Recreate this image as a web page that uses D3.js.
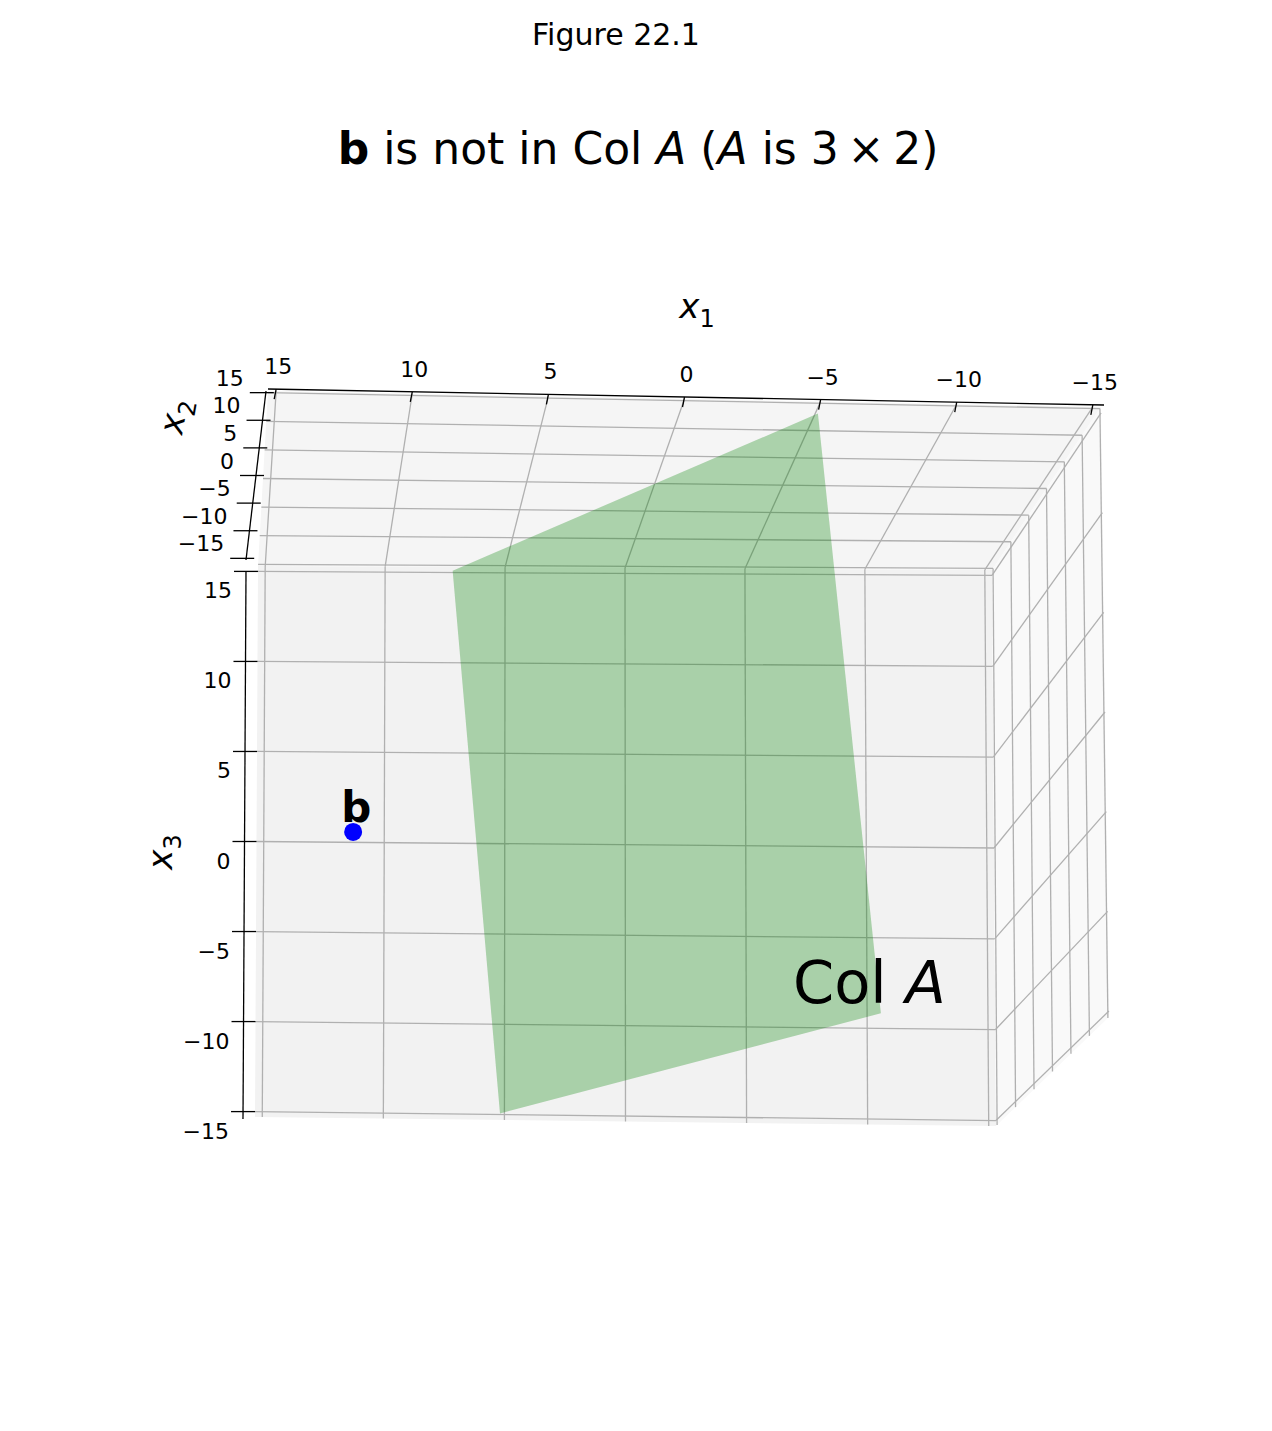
<!DOCTYPE html><html><head><meta charset="utf-8">
<script src="https://cdn.jsdelivr.net/npm/d3@7"></script>
<style>body{margin:0;background:#fff}</style></head><body>
<svg id="c" width="1272" height="1431"></svg>
<script>
const ticks=[-15,-10,-5,0,5,10,15];
const planeCorners=[[7.2,-15,15],[-5,14.2,15],[-7.2,14,-15],[5.2,-15,-15]];
const pointB=[11.3,-15,0.5];
const svg=d3.select("#c");
const F="DejaVu Sans, sans-serif";
const pad=0.3;
const su=d3.scaleLinear().domain([15+pad,-15-pad]).range([0,1]);
const sv=d3.scaleLinear().domain([-15-pad,15+pad]).range([0,1]);
const sw=d3.scaleLinear().domain([15+pad,-15-pad]).range([0,1]);
const C={"000":[258,566],"100":[992,570],"010":[268,391],"110":[1101,407],
"001":[255,1117],"101":[996,1126],"011":[261,1008],"111":[1109,1017]};
function P(x1,x2,x3){const u=su(x1),v=sv(x2),w=sw(x3);let X=0,Y=0;
for(const a of[0,1])for(const b of[0,1])for(const c of[0,1]){const k=(a?u:1-u)*(b?v:1-v)*(c?w:1-w);const p=C[""+a+b+c];X+=k*p[0];Y+=k*p[1];}
return[X,Y];}
const E=15+pad;
const line=d3.line();
function poly(pts,fill){svg.append("path").attr("d",line(pts)+"Z").attr("fill",fill).attr("stroke","none");}
poly([P(E,-E,E),P(-E,-E,E),P(-E,-E,-E),P(E,-E,-E)],"#f2f2f2");
poly([P(E,-E,E),P(-E,-E,E),P(-E,E,E),P(E,E,E)],"#f5f5f5");
poly([P(-E,-E,E),P(-E,E,E),P(-E,E,-E),P(-E,-E,-E)],"#f9f9f9");
function seg(a,b,col,w){svg.append("path").attr("d",line([a,b])).attr("stroke",col).attr("stroke-width",w).attr("fill","none");}
const G="#b0b0b0";
ticks.forEach(t=>{
 seg(P(t,-E,E),P(t,-E,-E),G,1.3); seg(P(E,-E,t),P(-E,-E,t),G,1.3);
 seg(P(t,-E,E),P(t,E,E),G,1.3); seg(P(E,t,E),P(-E,t,E),G,1.3);
 seg(P(-E,t,E),P(-E,t,-E),G,1.3); seg(P(-E,-E,t),P(-E,E,t),G,1.3);
});
svg.append("path").attr("d",line(planeCorners.map(p=>P(...p)))+"Z").attr("fill","rgba(0,128,0,0.3)");
const fmt=t=>(""+t).replace("-","−");
seg([P(E,E,E)[0],P(E,E,E)[1]-2],[P(-E,E,E)[0]+3,P(-E,E,E)[1]-2],"#000",1.3);
ticks.forEach(t=>{const p=P(t,E,E);seg([p[0],p[1]-2],[p[0]-2,p[1]+8],"#000",1.3);
 svg.append("text").attr("x",p[0]+2).attr("y",p[1]-17).attr("text-anchor","middle").attr("font-family",F).attr("font-size",22).text(fmt(t));});
const x2a=P(E,E,E),x2b=P(E,-E,E);
seg([x2a[0]-2,x2a[1]],[x2b[0]-12,x2b[1]-6],"#000",1.3);
ticks.forEach(t=>{const p=P(E,t,E);const f=(t+E)/(2*E);const x=p[0]-12+10*f,y=p[1]-6+6*f;
 seg([x-16,y],[x+8,y],"#000",1.3);
 svg.append("text").attr("x",x-22).attr("y",y-7).attr("text-anchor","end").attr("font-family",F).attr("font-size",22).text(fmt(t));});
const x3a=P(E,-E,E),x3b=P(E,-E,-E);
seg([x3a[0]-12,x3a[1]+6],[x3b[0]-12,x3b[1]+2],"#000",1.3);
ticks.forEach(t=>{const p=P(E,-E,t);const x=p[0]-12;
 seg([x-12,p[1]],[x+12,p[1]],"#000",1.3);
 svg.append("text").attr("x",x-14).attr("y",p[1]+27).attr("text-anchor","end").attr("font-family",F).attr("font-size",22).text(fmt(t));});
function lab(x,y,sub,rot){const g=svg.append("text").attr("font-family",F).attr("font-size",34).attr("transform",`translate(${x},${y}) rotate(${rot})`).attr("text-anchor","middle");
 g.append("tspan").attr("font-style","italic").text("x");g.append("tspan").attr("font-size",24).attr("dy",9).text(sub);}
lab(697,318,"1",0);lab(185,418,"2",-80);lab(172,852,"3",-90);
const pb=P(...pointB);
svg.append("circle").attr("cx",pb[0]).attr("cy",pb[1]).attr("r",9).attr("fill","#0000ff");
svg.append("text").attr("x",pb[0]-12).attr("y",pb[1]-10).attr("font-family",F).attr("font-weight","bold").attr("font-size",42).text("b");
const ct=svg.append("text").attr("x",793).attr("y",1003).attr("font-family",F).attr("font-size",59);
ct.append("tspan").text("Col ");ct.append("tspan").attr("font-style","italic").text("A");
svg.append("text").attr("x",616).attr("y",45).attr("text-anchor","middle").attr("font-family",F).attr("font-size",30).text("Figure 22.1");
const t=svg.append("text").attr("x",638).attr("y",164).attr("text-anchor","middle").attr("font-family",F).attr("font-size",44);
t.append("tspan").attr("font-weight","bold").text("b");t.append("tspan").text(" is not in Col ");
t.append("tspan").attr("font-style","italic").text("A");t.append("tspan").text(" (");
t.append("tspan").attr("font-style","italic").text("A");t.append("tspan").text(" is 3\u2009×\u20092)");
</script></body></html>
